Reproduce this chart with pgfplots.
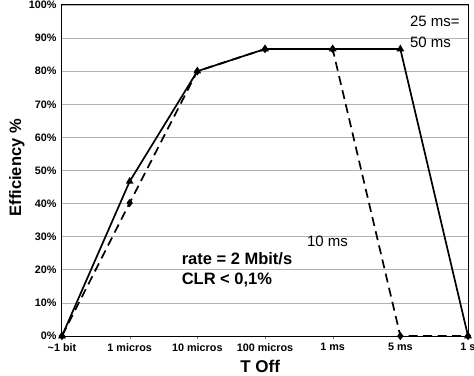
\documentclass[border=0pt]{standalone}
\usepackage{pgfplots}
\pgfplotsset{compat=1.18}
\usepackage{fontspec}
\setmainfont{Liberation Sans}
\begin{document}
\begin{tikzpicture}
\useasboundingbox (-62pt,-39pt) rectangle (412pt,336pt);
\begin{axis}[
  at={(0,0)}, anchor=south west,
  scale only axis, width=406pt, height=331pt,
  xmin=0, xmax=6, ymin=0, ymax=100,
  xtick={0,1,2,3,4,5,6},
  xticklabels={\textasciitilde1 bit,1 micros,10 micros,100 micros,1 ms,5 ms,1 s},
  ytick={0,10,20,30,40,50,60,70,80,90,100},
  yticklabels={0\%,10\%,20\%,30\%,40\%,50\%,60\%,70\%,80\%,90\%,100\%},
  /pgf/number format/assume math mode=true,
  tick label style={font=\bfseries\fontsize{10.8}{12}\selectfont, text=black},
  xtick align=outside, xtick pos=bottom, ytick pos=left,
  major tick length=3pt, ytick style={draw=none},
  ymajorgrids, grid style={draw=black!30, line width=0.8pt},
  axis line style={line width=1pt},
  xticklabel style={yshift=-1pt},
  yticklabel style={xshift=-2pt},
  xlabel={T Off}, ylabel={Efficiency \%},
  xlabel style={font=\bfseries\fontsize{17}{20}\selectfont, at={(axis description cs:0.488,-0.109)}, anchor=base},
  ylabel style={font=\bfseries\fontsize{16.5}{20}\selectfont, at={(axis description cs:-0.111,0.508)}, anchor=center},
  clip=false,
]
\addplot[black, line width=1.7pt, mark=triangle*, mark size=2.8pt] coordinates {
  (0,0) (1,46.7) (2,80) (3,86.7) (4,86.7) (5,86.7) (6,0)};
\addplot[black, line width=1.7pt, dash pattern=on 9pt off 5.5pt, mark=diamond*, mark size=2.8pt, mark options={solid}] coordinates {
  (0,0) (1,40.2) (2,80) (3,86.7) (4,86.7) (5,0) (6,0)};
\node[anchor=base west, font=\bfseries\fontsize{16.5}{20}\selectfont, inner sep=0pt] at (axis cs:1.767,21.5) {rate = 2 Mbit/s};
\node[anchor=base west, font=\bfseries\fontsize{16.5}{20}\selectfont, inner sep=0pt] at (axis cs:1.767,15.7) {CLR < 0,1\%};
\node[anchor=base west, font=\fontsize{15}{18}\selectfont, inner sep=0pt] at (axis cs:3.62,26.9) {10 ms};
\node[anchor=base west, font=\fontsize{15}{18}\selectfont, inner sep=0pt] at (axis cs:5.14,93.4) {25 ms=};
\node[anchor=base west, font=\fontsize{15}{18}\selectfont, inner sep=0pt] at (axis cs:5.14,87.3) {50 ms};
\end{axis}
\end{tikzpicture}
\end{document}
